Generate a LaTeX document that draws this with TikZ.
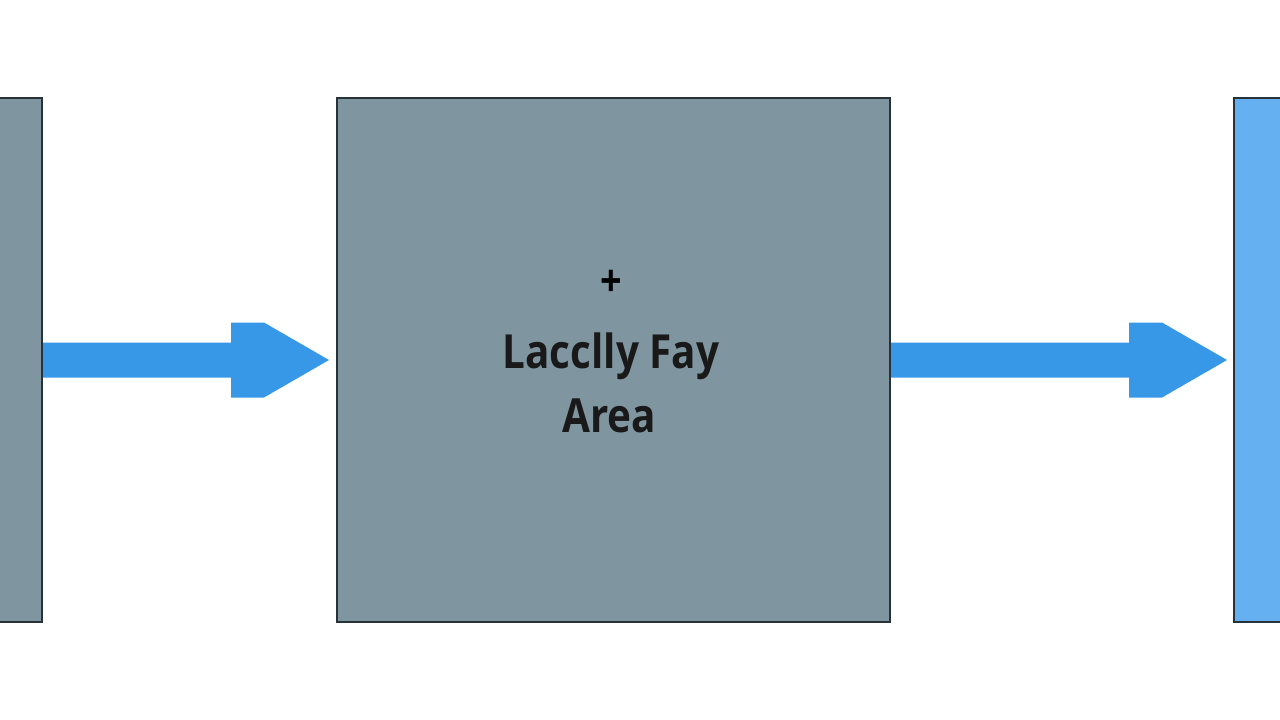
\documentclass[tikz,border=0pt]{standalone}
\usepackage{fontspec}
\newfontfamily\lblfont[FakeStretch=0.86]{Open Sans}
\usetikzlibrary{calc}
\definecolor{boxgray}{RGB}{127,150,161}
\definecolor{boxblue}{RGB}{100,176,240}
\definecolor{arrowblue}{RGB}{56,152,232}
\definecolor{edgedark}{RGB}{40,50,58}
\tikzset{
  panel/.style={draw=edgedark, line width=2pt, minimum height=524pt, inner sep=0pt},
  lbl/.style={font=\lblfont\bfseries\fontsize{47}{60}\selectfont, text=black!90, inner sep=0pt},
  fat/.style={fill=arrowblue, draw=none}
}
\newcommand\bigarrowpath[2]{%
  \fill[fat] ($(#1)+(0,-17.5)$) -- ($(#2)+(-98,-17.5)$) -- ($(#2)+(-98,-37.5)$)
    -- ($(#2)+(-65,-37.5)$) -- (#2) -- ($(#2)+(-65,37.5)$) -- ($(#2)+(-98,37.5)$)
    -- ($(#2)+(-98,17.5)$) -- ($(#1)+(0,17.5)$) -- cycle;}
\begin{document}
\begin{tikzpicture}[x=1pt,y=-1pt]
\fill[white] (0,0) rectangle (1280,720);
\clip (0,0) rectangle (1280,720);
\node[panel, fill=boxgray, minimum width=62pt] (L) at (11,360) {};
\node[panel, fill=boxgray, minimum width=553pt] (M) at (613.5,360) {};
\node[panel, fill=boxblue, minimum width=80pt] (R) at (1274,360) {};
\coordinate (t1) at ($(M.west)+(-7,0)$);
\coordinate (t2) at ($(R.west)+(-6,0)$);
\bigarrowpath{L.east}{t1}
\bigarrowpath{M.east}{t2}
\node[font=\lblfont\bfseries\fontsize{44}{44}\selectfont, inner sep=0pt] (plus) at (611,283) {+};
\node[lbl, anchor=base] (l1) at (611,368) {Lacclly Fay};
\node[lbl, anchor=base] (l2) at (609,432) {Area};
\end{tikzpicture}
\end{document}
